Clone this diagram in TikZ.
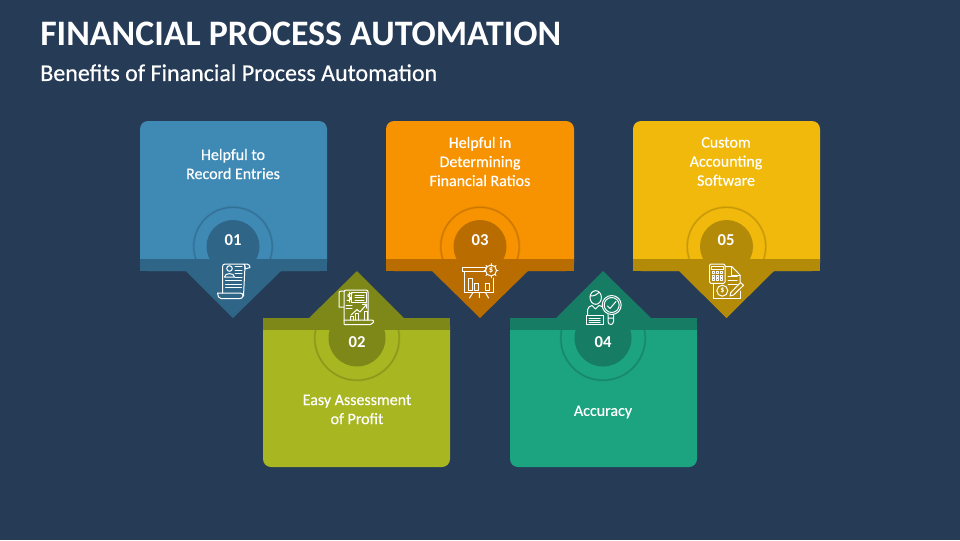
\documentclass[tikz,border=0pt]{standalone}
\usepackage{fontspec}
\setmainfont{Carlito}
\newfontfamily\heavyfont[RawFeature={embolden=0.5}]{Carlito}
\usepackage{tikz}

\definecolor{slate}{HTML}{253B56}
\definecolor{bluecard}{HTML}{3F89B5}
\definecolor{blueband}{HTML}{2F6688}
\definecolor{limecard}{HTML}{A8B621}
\definecolor{limeband}{HTML}{7E8818}
\definecolor{orangecard}{HTML}{F79200}
\definecolor{orangeband}{HTML}{B96D00}
\definecolor{tealcard}{HTML}{1CA37F}
\definecolor{tealband}{HTML}{167C63}
\definecolor{goldcard}{HTML}{F0B90B}
\definecolor{goldband}{HTML}{B48B08}

\tikzset{
  label/.style={text=white, align=center, font=\fontsize{12}{14.3}\heavyfont},
  number/.style={text=white, font=\fontsize{12.5}{14}\selectfont\bfseries},
  ring/.style={preaction={draw=black, draw opacity=.07, line width=2.2pt}, draw=black, draw opacity=.13, line width=1pt},
  icon/.style={draw=white, line width=.75pt, line join=round, line cap=round},
}

\begin{document}
\begin{tikzpicture}[x=.75pt, y=-.75pt]
    \fill[slate] (0, 0) rectangle (960, 540);
    \useasboundingbox (0, 0) rectangle (960, 540);
    \node[text=white, anchor=west, inner sep=0pt, font=\fontsize{26.9}{30}\selectfont\bfseries] (title) at (40, 34) {FINANCIAL PROCESS AUTOMATION};
    \node[text=white, anchor=west, inner sep=0pt, font=\fontsize{18}{20}\heavyfont] (subtitle) at (40, 72.7) {Benefits of Financial Process Automation};

    % top row cards
    \fill[bluecard, rounded corners=6pt] (140, 121) rectangle (327, 271);
    \fill[bluecard, ring] (233, 246.5) circle [radius=39];
    \fill[blueband] (233, 246.5) circle [radius=26.5];
    \fill[blueband] (140, 259) rectangle (327, 271);
    \fill[blueband] (186, 271) -- (233, 318) -- (281, 271) -- cycle;

    \fill[orangecard, rounded corners=6pt] (386, 121) rectangle (574, 271);
    \fill[orangecard, ring] (480, 246.5) circle [radius=39];
    \fill[orangeband] (480, 246.5) circle [radius=26.5];
    \fill[orangeband] (386, 259) rectangle (574, 271);
    \fill[orangeband] (432, 271) -- (480, 318) -- (528, 271) -- cycle;

    \fill[goldcard, rounded corners=6pt] (633, 121) rectangle (820, 271);
    \fill[goldcard, ring] (726.5, 246.5) circle [radius=39];
    \fill[goldband] (726.5, 246.5) circle [radius=26.5];
    \fill[goldband] (633, 259) rectangle (820, 271);
    \fill[goldband] (679, 271) -- (726.5, 318) -- (774, 271) -- cycle;

    % bottom row cards
    \fill[limecard, rounded corners=6pt] (263, 318) rectangle (450, 467);
    \fill[limecard, ring] (357, 338) circle [radius=42];
    \fill[limeband] (357, 338) circle [radius=28.5];
    \fill[limeband] (263, 318) rectangle (450, 330);
    \fill[limeband] (309, 318) -- (357, 271) -- (404, 318) -- cycle;

    \fill[tealcard, rounded corners=6pt] (510, 318) rectangle (697, 467);
    \fill[tealcard, ring] (603, 338) circle [radius=42];
    \fill[tealband] (603, 338) circle [radius=28.5];
    \fill[tealband] (510, 318) rectangle (697, 330);
    \fill[tealband] (556, 318) -- (603, 271) -- (651, 318) -- cycle;

    % numbers
    \node[number] (num1) at (233, 240.5) {01};
    \node[number] (num2) at (357, 342.5) {02};
    \node[number] (num3) at (480, 240.5) {03};
    \node[number] (num4) at (603, 342.5) {04};
    \node[number] (num5) at (726, 240.5) {05};

    % labels
    \node[label] (text1) at (233, 164) {Helpful to\\Record Entries};
    \node[label] (text2) at (357, 409.5) {Easy Assessment\\of Profit};
    \node[label] (text3) at (480, 161.5) {Helpful in\\Determining\\Financial Ratios};
    \node[label] (text4) at (603, 412) {Accuracy};
    \node[label] (text5) at (726, 161.5) {Custom\\Accounting\\Software};

    % icon 1, scroll
    \draw[icon] (217.5, 293) -- (240, 293) .. controls (242, 293) and (243, 294) .. (243, 296) .. controls (243, 298) and (241, 298.5) .. (240, 298.5) -- (221, 298.5) .. controls (219, 298.5) and (217.5, 296) .. (217.5, 293);
    \draw[icon] (222.5, 293) -- (222.5, 267) .. controls (222.5, 265) and (223.5, 264) .. (225, 264) -- (247, 264) .. controls (249, 264) and (250, 266) .. (250, 267.5) -- (245, 269) -- (245, 266.5) .. controls (245, 265) and (244, 264) .. (243, 264);
    \draw[icon] (245, 266) -- (243.5, 296);
    \draw[icon] (229.5, 268.5) circle [radius=2.8];
    \draw[icon] (224.5, 277) .. controls (224.5, 272.5) and (234.5, 272.5) .. (234.5, 277) -- cycle;
    \draw[icon] (235, 266.5) -- (242, 266.5) (235, 270) -- (242, 270) (235, 273.5) -- (242, 273.5) (235, 277) -- (242, 277);
    \draw[icon] (225.5, 280.5) -- (241.5, 280.5) (225.5, 284) -- (241.5, 284) (225.5, 287.5) -- (241.5, 287.5);

    % icon 2, report
    \draw[icon] (344, 291) -- (341, 291) .. controls (339.5, 291) and (339, 292) .. (339, 293) -- (339, 307) -- (344, 307);
    \draw[icon] (344, 324) -- (344, 292) .. controls (344, 291) and (345, 290) .. (346, 290) -- (366, 290) .. controls (367.5, 290) and (368, 291) .. (368, 292) -- (368, 320);
    \draw[icon] (351.5, 292.5) rectangle (366.5, 302);
    \draw[icon] (355, 295) -- (364, 295) (355, 297.5) -- (364, 297.5) (355, 300) -- (364, 300);
    \draw[icon] (352, 293.5) .. controls (347, 293) and (347, 297) .. (349.5, 297) .. controls (352, 297) and (352, 301) .. (347, 300.5) (349.5, 292) -- (349.5, 302);
    \draw[icon] (346, 305) -- (352, 305) (346, 308) -- (352, 308);
    \draw[icon] (351, 315) -- (357, 309.5) -- (360, 312) -- (366, 305) (362.5, 304.5) -- (366.5, 304) -- (366.5, 308);
    \draw[icon] (350.5, 320) -- (350.5, 316.5) -- (353.5, 316.5) -- (353.5, 320) (355.5, 320) -- (355.5, 313.5) -- (358.5, 313.5) -- (358.5, 320) (364, 320) -- (364, 311) -- (367, 311) -- (367, 320);
    \draw[icon, rounded corners=1.5pt] (344, 320) -- (374, 320) -- (372.5, 324.5) -- (344.5, 324.5);

    % icon 3, presentation board
    \draw[icon] (462, 267.5) rectangle (485, 271.5);
    \draw[icon] (464, 271.5) -- (464, 292.5) -- (493, 292.5) -- (493, 278);
    \draw[icon] (491, 270.5) circle [radius=5.5];
    \foreach \gearangle in {0, 45, ..., 315}
      \draw[icon] (491, 270.5) ++(\gearangle:5.5) -- ++(\gearangle:1.5);
    \node[text=white, font=\fontsize{6.5}{6.5}\selectfont\bfseries, inner sep=0pt] (dollar3) at (491, 270.5) {\$};
    \draw[icon] (468, 278) rectangle (472, 290.5);
    \draw[icon] (474.5, 283.5) rectangle (478.5, 290.5);
    \draw[icon] (485, 283) rectangle (489, 290.5);
    \draw[icon] (479.3, 292.5) -- (479.3, 297.5) (473, 292.5) -- (469.5, 298) (485.5, 292.5) -- (488.5, 298);

    % icon 4, inspector with magnifier
    \draw[icon] (595.7, 297.5) ellipse [x radius=5.7, y radius=6.8];
    \draw[icon] (590, 296) .. controls (594, 296) and (597, 295) .. (599, 292.5);
    \draw[icon] (587.5, 314.5) -- (587.5, 310) .. controls (587.5, 307) and (590, 306.5) .. (592, 305.5) -- (595.5, 309) -- (599, 305.5) -- (602, 306.5);
    \draw[icon] (586, 315) rectangle (603, 324.7);
    \draw[icon] (589, 318) -- (600, 318) (589, 320) -- (600, 320) (589, 322) -- (600, 322);
    \draw[icon] (611.7, 305) circle [radius=9.5];
    \draw[icon] (611.7, 305) circle [radius=7.5];
    \draw[icon] (607.5, 306) -- (610, 308.5) -- (616, 301.5);
    \draw[icon] (608, 314.5) -- (608, 321.5) .. controls (608, 325.5) and (613.5, 325.5) .. (613.5, 321.5) -- (613.5, 314.5) (608, 318) -- (613.5, 318);

    % icon 5, calculator and invoice
    \draw[icon, rounded corners=1pt] (709.5, 264) rectangle (725, 283.3);
    \draw[icon] (711.5, 266) rectangle (723, 269.5);
    \foreach \keyx in {713, 717.3, 721.6}
      \foreach \keyy in {272.5, 276, 279.8}
        \draw[icon] (\keyx-1, \keyy-1) rectangle (\keyx+1, \keyy+1);
    \draw[icon] (725, 266.5) -- (731.7, 266.5) -- (740, 275) -- (740, 282);
    \draw[icon] (731.7, 266.5) -- (731.7, 275) -- (740, 275);
    \draw[icon] (713.3, 283.3) -- (713.3, 298.3) -- (740, 298.3) -- (740, 291);
    \draw[icon] (722.3, 290.7) circle [radius=5.5];
    \node[text=white, font=\fontsize{6}{6}\selectfont\bfseries, inner sep=0pt] (dollar5) at (722.3, 290.7) {\$};
    \draw[icon] (728, 276.5) -- (737, 276.5) (728, 280.5) -- (737, 280.5) (728, 284.5) -- (737, 284.5);
    \draw[icon] (730, 296) -- (730.8, 292.5) -- (740.5, 282.5) -- (743.5, 285.3) -- (733.5, 295) -- cycle;
\end{tikzpicture}
\end{document}
